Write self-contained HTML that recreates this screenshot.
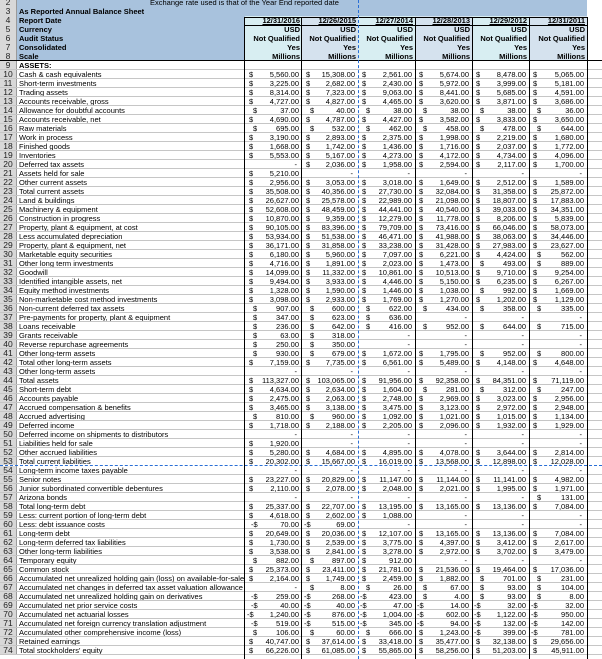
<!DOCTYPE html>
<html><head><meta charset="utf-8"><style>
*{margin:0;padding:0;box-sizing:border-box}
body{width:602px;height:659px;overflow:hidden;background:#fff;font-family:"Liberation Sans",Arial,sans-serif;font-size:7.5px;color:#000;position:relative}
#w{position:absolute;left:0;top:-2px;width:602px}
.r{display:flex;height:9px;line-height:9px;border-bottom:1px solid #c6c6c6;white-space:nowrap}
.r i{font-style:normal;width:17px;background:#d8d8d8;border-right:1px solid #9a9a9a;border-bottom:0;text-align:center;font-size:8.5px;flex:none;color:#222}
.r p{width:228px;flex:none;padding-left:2px;overflow:hidden}
c{display:block;flex:none;width:57px;position:relative;text-align:right;padding-right:3px}
c:nth-of-type(2){width:56px}
c:nth-of-type(6){width:58px}
c::before{content:"$";position:absolute;left:4px}
c.s::before{left:8px}
c.n::before{content:"-$";left:2px}
c.n.s::before{left:6px}
c.d::before{content:""}
c.d{padding-right:5px}
.h{font-weight:bold}
.b1{background:#a8c2dd}
.hd c::before{content:""}
.hd c{font-weight:bold;padding-right:2px}
.hd c:nth-of-type(odd){background:#d8eef2}
.hd c:nth-of-type(even){background:#d5e2ee}
.vl{position:absolute;width:1px;background:#000}
</style></head><body>
<div id="w">
<div class="r" style="border-bottom:0"><i>2</i><div class="b1" style="width:570px;flex:none;position:relative"><span style="position:absolute;left:133px">Exchange rate used is that of the Year End reported date</span></div></div>
<div class="r" style="border-bottom:0"><i>3</i><div class="b1 h" style="width:570px;flex:none;padding-left:2px">As Reported Annual Balance Sheet</div></div>
<div class="r hd" style="border-bottom:0"><i>4</i><p class="b1 h">Report Date</p><c style="text-decoration:underline">12/31/2016</c><c style="text-decoration:underline">12/26/2015</c><c style="text-decoration:underline">12/27/2014</c><c style="text-decoration:underline">12/28/2013</c><c style="text-decoration:underline">12/29/2012</c><c style="text-decoration:underline">12/31/2011</c></div>
<div class="r hd" style="border-bottom:0"><i>5</i><p class="b1 h">Currency</p><c>USD</c><c>USD</c><c>USD</c><c>USD</c><c>USD</c><c>USD</c></div>
<div class="r hd" style="border-bottom:0"><i>6</i><p class="b1 h">Audit Status</p><c>Not Qualified</c><c>Not Qualified</c><c>Not Qualified</c><c>Not Qualified</c><c>Not Qualified</c><c>Not Qualified</c></div>
<div class="r hd" style="border-bottom:0"><i>7</i><p class="b1 h">Consolidated</p><c>Yes</c><c>Yes</c><c>Yes</c><c>Yes</c><c>Yes</c><c>Yes</c></div>
<div class="r hd" style="border-bottom:1px solid #000"><i>8</i><p class="b1 h">Scale</p><c>Millions</c><c>Millions</c><c>Millions</c><c>Millions</c><c>Millions</c><c>Millions</c></div>
<div class="r"><i>9</i><p class="h">ASSETS:</p></div>
<div class="r"><i>10</i><p>Cash &amp; cash equivalents</p><c>5,560.00</c><c>15,308.00</c><c>2,561.00</c><c>5,674.00</c><c>8,478.00</c><c>5,065.00</c></div>
<div class="r"><i>11</i><p>Short-term investments</p><c>3,225.00</c><c>2,682.00</c><c>2,430.00</c><c>5,972.00</c><c>3,999.00</c><c>5,181.00</c></div>
<div class="r"><i>12</i><p>Trading assets</p><c>8,314.00</c><c>7,323.00</c><c>9,063.00</c><c>8,441.00</c><c>5,685.00</c><c>4,591.00</c></div>
<div class="r"><i>13</i><p>Accounts receivable, gross</p><c>4,727.00</c><c>4,827.00</c><c>4,465.00</c><c>3,620.00</c><c>3,871.00</c><c>3,686.00</c></div>
<div class="r"><i>14</i><p>Allowance for doubtful accounts</p><c class="s">37.00</c><c class="s">40.00</c><c class="s">38.00</c><c class="s">38.00</c><c class="s">38.00</c><c class="s">36.00</c></div>
<div class="r"><i>15</i><p>Accounts receivable, net</p><c>4,690.00</c><c>4,787.00</c><c>4,427.00</c><c>3,582.00</c><c>3,833.00</c><c>3,650.00</c></div>
<div class="r"><i>16</i><p>Raw materials</p><c class="s">695.00</c><c class="s">532.00</c><c class="s">462.00</c><c class="s">458.00</c><c class="s">478.00</c><c class="s">644.00</c></div>
<div class="r"><i>17</i><p>Work in process</p><c>3,190.00</c><c>2,893.00</c><c>2,375.00</c><c>1,998.00</c><c>2,219.00</c><c>1,680.00</c></div>
<div class="r"><i>18</i><p>Finished goods</p><c>1,668.00</c><c>1,742.00</c><c>1,436.00</c><c>1,716.00</c><c>2,037.00</c><c>1,772.00</c></div>
<div class="r"><i>19</i><p>Inventories</p><c>5,553.00</c><c>5,167.00</c><c>4,273.00</c><c>4,172.00</c><c>4,734.00</c><c>4,096.00</c></div>
<div class="r"><i>20</i><p>Deferred tax assets</p><c class="d">-</c><c>2,036.00</c><c>1,958.00</c><c>2,594.00</c><c>2,117.00</c><c>1,700.00</c></div>
<div class="r"><i>21</i><p>Assets held for sale</p><c>5,210.00</c><c class="d">-</c><c class="d">-</c><c class="d">-</c><c class="d">-</c><c class="d">-</c></div>
<div class="r"><i>22</i><p>Other current assets</p><c>2,956.00</c><c>3,053.00</c><c>3,018.00</c><c>1,649.00</c><c>2,512.00</c><c>1,589.00</c></div>
<div class="r"><i>23</i><p>Total current assets</p><c>35,508.00</c><c>40,356.00</c><c>27,730.00</c><c>32,084.00</c><c>31,358.00</c><c>25,872.00</c></div>
<div class="r"><i>24</i><p>Land &amp; buildings</p><c>26,627.00</c><c>25,578.00</c><c>22,989.00</c><c>21,098.00</c><c>18,807.00</c><c>17,883.00</c></div>
<div class="r"><i>25</i><p>Machinery &amp; equipment</p><c>52,608.00</c><c>48,459.00</c><c>44,441.00</c><c>40,540.00</c><c>39,033.00</c><c>34,351.00</c></div>
<div class="r"><i>26</i><p>Construction in progress</p><c>10,870.00</c><c>9,359.00</c><c>12,279.00</c><c>11,778.00</c><c>8,206.00</c><c>5,839.00</c></div>
<div class="r"><i>27</i><p>Property, plant &amp; equipment, at cost</p><c>90,105.00</c><c>83,396.00</c><c>79,709.00</c><c>73,416.00</c><c>66,046.00</c><c>58,073.00</c></div>
<div class="r"><i>28</i><p>Less accumulated depreciation</p><c>53,934.00</c><c>51,538.00</c><c>46,471.00</c><c>41,988.00</c><c>38,063.00</c><c>34,446.00</c></div>
<div class="r"><i>29</i><p>Property, plant &amp; equipment, net</p><c>36,171.00</c><c>31,858.00</c><c>33,238.00</c><c>31,428.00</c><c>27,983.00</c><c>23,627.00</c></div>
<div class="r"><i>30</i><p>Marketable equity securities</p><c>6,180.00</c><c>5,960.00</c><c>7,097.00</c><c>6,221.00</c><c>4,424.00</c><c class="s">562.00</c></div>
<div class="r"><i>31</i><p>Other long term investments</p><c>4,716.00</c><c>1,891.00</c><c>2,023.00</c><c>1,473.00</c><c class="s">493.00</c><c class="s">889.00</c></div>
<div class="r"><i>32</i><p>Goodwill</p><c>14,099.00</c><c>11,332.00</c><c>10,861.00</c><c>10,513.00</c><c>9,710.00</c><c>9,254.00</c></div>
<div class="r"><i>33</i><p>Identified intangible assets, net</p><c>9,494.00</c><c>3,933.00</c><c>4,446.00</c><c>5,150.00</c><c>6,235.00</c><c>6,267.00</c></div>
<div class="r"><i>34</i><p>Equity method investments</p><c>1,328.00</c><c>1,590.00</c><c>1,446.00</c><c>1,038.00</c><c class="s">992.00</c><c>1,669.00</c></div>
<div class="r"><i>35</i><p>Non-marketable cost method investments</p><c>3,098.00</c><c>2,933.00</c><c>1,769.00</c><c>1,270.00</c><c>1,202.00</c><c>1,129.00</c></div>
<div class="r"><i>36</i><p>Non-current deferred tax assets</p><c class="s">907.00</c><c class="s">600.00</c><c class="s">622.00</c><c class="s">434.00</c><c class="s">358.00</c><c class="s">335.00</c></div>
<div class="r"><i>37</i><p>Pre-payments for property, plant &amp; equipment</p><c class="s">347.00</c><c class="s">623.00</c><c class="s">636.00</c><c class="d">-</c><c class="d">-</c><c class="d">-</c></div>
<div class="r"><i>38</i><p>Loans receivable</p><c class="s">236.00</c><c class="s">642.00</c><c class="s">416.00</c><c class="s">952.00</c><c class="s">644.00</c><c class="s">715.00</c></div>
<div class="r"><i>39</i><p>Grants receivable</p><c class="s">63.00</c><c class="s">318.00</c><c class="d">-</c><c class="d">-</c><c class="d">-</c><c class="d">-</c></div>
<div class="r"><i>40</i><p>Reverse repurchase agreements</p><c class="s">250.00</c><c class="s">350.00</c><c class="d">-</c><c class="d">-</c><c class="d">-</c><c class="d">-</c></div>
<div class="r"><i>41</i><p>Other long-term assets</p><c class="s">930.00</c><c class="s">679.00</c><c>1,672.00</c><c>1,795.00</c><c class="s">952.00</c><c class="s">800.00</c></div>
<div class="r"><i>42</i><p>Total other long-term assets</p><c>7,159.00</c><c>7,735.00</c><c>6,561.00</c><c>5,489.00</c><c>4,148.00</c><c>4,648.00</c></div>
<div class="r"><i>43</i><p>Other long-term assets</p><c class="d">-</c><c class="d">-</c><c class="d">-</c><c class="d">-</c><c class="d">-</c><c class="d">-</c></div>
<div class="r"><i>44</i><p>Total assets</p><c>113,327.00</c><c>103,065.00</c><c>91,956.00</c><c>92,358.00</c><c>84,351.00</c><c>71,119.00</c></div>
<div class="r"><i>45</i><p>Short-term debt</p><c>4,634.00</c><c>2,634.00</c><c>1,604.00</c><c class="s">281.00</c><c class="s">312.00</c><c class="s">247.00</c></div>
<div class="r"><i>46</i><p>Accounts payable</p><c>2,475.00</c><c>2,063.00</c><c>2,748.00</c><c>2,969.00</c><c>3,023.00</c><c>2,956.00</c></div>
<div class="r"><i>47</i><p>Accrued compensation &amp; benefits</p><c>3,465.00</c><c>3,138.00</c><c>3,475.00</c><c>3,123.00</c><c>2,972.00</c><c>2,948.00</c></div>
<div class="r"><i>48</i><p>Accrued advertising</p><c class="s">810.00</c><c class="s">960.00</c><c>1,092.00</c><c>1,021.00</c><c>1,015.00</c><c>1,134.00</c></div>
<div class="r"><i>49</i><p>Deferred income</p><c>1,718.00</c><c>2,188.00</c><c>2,205.00</c><c>2,096.00</c><c>1,932.00</c><c>1,929.00</c></div>
<div class="r"><i>50</i><p>Deferred income on shipments to distributors</p><c class="d">-</c><c class="d">-</c><c class="d">-</c><c class="d">-</c><c class="d">-</c><c class="d">-</c></div>
<div class="r"><i>51</i><p>Liabilities held for sale</p><c>1,920.00</c><c class="d">-</c><c class="d">-</c><c class="d">-</c><c class="d">-</c><c class="d">-</c></div>
<div class="r"><i>52</i><p>Other accrued liabilities</p><c>5,280.00</c><c>4,684.00</c><c>4,895.00</c><c>4,078.00</c><c>3,644.00</c><c>2,814.00</c></div>
<div class="r" style="border-bottom:1px dashed #2a6fd6"><i>53</i><p>Total current liabilities</p><c>20,302.00</c><c>15,667.00</c><c>16,019.00</c><c>13,568.00</c><c>12,898.00</c><c>12,028.00</c></div>
<div class="r"><i>54</i><p>Long-term income taxes payable</p><c class="d">-</c><c class="d">-</c><c class="d">-</c><c class="d">-</c><c class="d">-</c><c class="d">-</c></div>
<div class="r"><i>55</i><p>Senior notes</p><c>23,227.00</c><c>20,829.00</c><c>11,147.00</c><c>11,144.00</c><c>11,141.00</c><c>4,982.00</c></div>
<div class="r"><i>56</i><p>Junior subordinated convertible debentures</p><c>2,110.00</c><c>2,078.00</c><c>2,048.00</c><c>2,021.00</c><c>1,995.00</c><c>1,971.00</c></div>
<div class="r"><i>57</i><p>Arizona bonds</p><c class="d">-</c><c class="d">-</c><c class="d">-</c><c class="d">-</c><c class="d">-</c><c class="s">131.00</c></div>
<div class="r"><i>58</i><p>Total long-term debt</p><c>25,337.00</c><c>22,707.00</c><c>13,195.00</c><c>13,165.00</c><c>13,136.00</c><c>7,084.00</c></div>
<div class="r"><i>59</i><p>Less: current portion of long-term debt</p><c>4,618.00</c><c>2,602.00</c><c>1,088.00</c><c class="d">-</c><c class="d">-</c><c class="d">-</c></div>
<div class="r"><i>60</i><p>Less: debt issuance costs</p><c class="n s">70.00</c><c class="n">69.00</c><c class="d">-</c><c class="d">-</c><c class="d">-</c><c class="d">-</c></div>
<div class="r"><i>61</i><p>Long-term debt</p><c>20,649.00</c><c>20,036.00</c><c>12,107.00</c><c>13,165.00</c><c>13,136.00</c><c>7,084.00</c></div>
<div class="r"><i>62</i><p>Long-term deferred tax liabilities</p><c>1,730.00</c><c>2,539.00</c><c>3,775.00</c><c>4,397.00</c><c>3,412.00</c><c>2,617.00</c></div>
<div class="r"><i>63</i><p>Other long-term liabilities</p><c>3,538.00</c><c>2,841.00</c><c>3,278.00</c><c>2,972.00</c><c>3,702.00</c><c>3,479.00</c></div>
<div class="r"><i>64</i><p>Temporary equity</p><c class="s">882.00</c><c class="s">897.00</c><c>912.00</c><c class="d">-</c><c class="d">-</c><c class="d">-</c></div>
<div class="r"><i>65</i><p>Common stock</p><c>25,373.00</c><c>23,411.00</c><c>21,781.00</c><c>21,536.00</c><c>19,464.00</c><c>17,036.00</c></div>
<div class="r"><i>66</i><p>Accumulated net unrealized holding gain (loss) on available-for-sale</p><c>2,164.00</c><c>1,749.00</c><c>2,459.00</c><c>1,882.00</c><c class="s">701.00</c><c class="s">231.00</c></div>
<div class="r"><i>67</i><p>Accumulated net changes in deferred tax asset valuation allowance</p><c class="d">-</c><c class="s">8.00</c><c class="s">26.00</c><c class="s">67.00</c><c class="s">93.00</c><c class="s">104.00</c></div>
<div class="r"><i>68</i><p>Accumulated net unrealized holding gain on derivatives</p><c class="n s">259.00</c><c class="n">268.00</c><c class="n">423.00</c><c class="s">4.00</c><c class="s">93.00</c><c class="s">8.00</c></div>
<div class="r"><i>69</i><p>Accumulated net prior service costs</p><c class="n s">40.00</c><c class="n">40.00</c><c class="n">47.00</c><c class="n">14.00</c><c class="n">32.00</c><c class="n">32.00</c></div>
<div class="r"><i>70</i><p>Accumulated net actuarial losses</p><c class="n">1,240.00</c><c class="n">876.00</c><c class="n">1,004.00</c><c class="n">602.00</c><c class="n">1,122.00</c><c class="n">950.00</c></div>
<div class="r"><i>71</i><p>Accumulated net foreign currency translation adjustment</p><c class="n s">519.00</c><c class="n">515.00</c><c class="n">345.00</c><c class="n">94.00</c><c class="n">132.00</c><c class="n">142.00</c></div>
<div class="r"><i>72</i><p>Accumulated other comprehensive income (loss)</p><c class="s">106.00</c><c class="s">60.00</c><c class="s">666.00</c><c>1,243.00</c><c class="n">399.00</c><c class="n">781.00</c></div>
<div class="r"><i>73</i><p>Retained earnings</p><c>40,747.00</c><c>37,614.00</c><c>33,418.00</c><c>35,477.00</c><c>32,138.00</c><c>29,656.00</c></div>
<div class="r"><i>74</i><p>Total stockholders' equity</p><c>66,226.00</c><c>61,085.00</c><c>55,865.00</c><c>58,256.00</c><c>51,203.00</c><c>45,911.00</c></div>
</div>
<div class="vl" style="left:244px;top:17px;height:642px"></div>
<div class="vl" style="left:301px;top:17px;height:642px"></div>
<div class="vl" style="left:415px;top:17px;height:642px"></div>
<div class="vl" style="left:472px;top:17px;height:642px"></div>
<div class="vl" style="left:529px;top:17px;height:642px"></div>
<div class="vl" style="left:587px;top:17px;height:642px"></div>
<div style="position:absolute;left:244px;top:17px;width:344px;height:1px;background:#000"></div>
<div style="position:absolute;left:244px;top:25px;width:344px;height:1px;background:#000"></div>
<div style="position:absolute;left:358px;top:0;height:659px;border-left:1px dashed #2a6fd6"></div>
</body></html>
